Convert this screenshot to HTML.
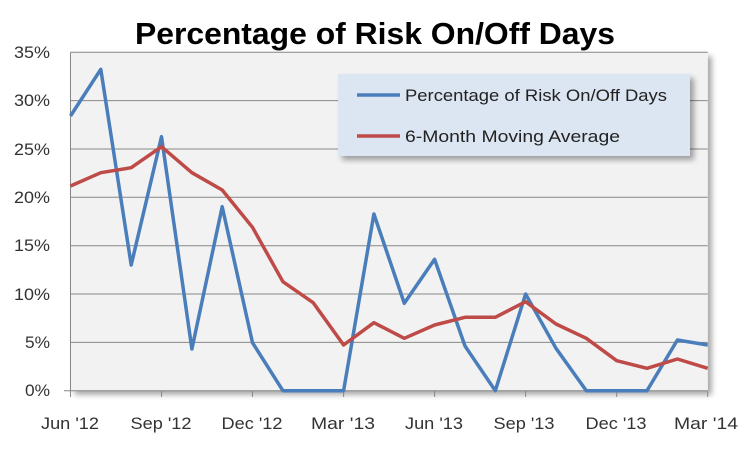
<!DOCTYPE html>
<html><head><meta charset="utf-8"><style>
body{margin:0;background:#fff;}
svg text{font-family:"Liberation Sans",sans-serif;}
</style></head><body>
<svg width="756" height="456" viewBox="0 0 756 456" xmlns="http://www.w3.org/2000/svg">
<defs><filter id="sh" x="-5%" y="-5%" width="115%" height="115%"><feDropShadow dx="4" dy="4" stdDeviation="3" flood-color="#000" flood-opacity="0.35"/></filter></defs>
<text x="375" y="44" text-anchor="middle" font-size="31" font-weight="bold" fill="#000" textLength="480" lengthAdjust="spacingAndGlyphs">Percentage of Risk On/Off Days</text>
<rect x="70.5" y="52.3" width="637.2" height="338.4" fill="#f2f2f2" filter="url(#sh)"/>
<g stroke="#888" stroke-width="1">
<line x1="70.5" x2="707.7" y1="52.3" y2="52.3"/>
<line x1="70.5" x2="707.7" y1="100.6" y2="100.6"/>
<line x1="70.5" x2="707.7" y1="149" y2="149"/>
<line x1="70.5" x2="707.7" y1="197.3" y2="197.3"/>
<line x1="70.5" x2="707.7" y1="245.7" y2="245.7"/>
<line x1="70.5" x2="707.7" y1="294" y2="294"/>
<line x1="70.5" x2="707.7" y1="342.4" y2="342.4"/>
<line x1="64" x2="707.7" y1="390.7" y2="390.7"/>
<line x1="70.5" x2="70.5" y1="52.3" y2="397"/>
<line x1="161.5" x2="161.5" y1="390.7" y2="397"/>
<line x1="252.5" x2="252.5" y1="390.7" y2="397"/>
<line x1="343.6" x2="343.6" y1="390.7" y2="397"/>
<line x1="434.6" x2="434.6" y1="390.7" y2="397"/>
<line x1="525.6" x2="525.6" y1="390.7" y2="397"/>
<line x1="616.7" x2="616.7" y1="390.7" y2="397"/>
<line x1="707.7" x2="707.7" y1="390.7" y2="397"/>
</g>
<g font-size="17" fill="#333" text-anchor="end">
<text x="50" y="58" textLength="36" lengthAdjust="spacingAndGlyphs">35%</text><text x="50" y="106" textLength="36" lengthAdjust="spacingAndGlyphs">30%</text><text x="50" y="155" textLength="36" lengthAdjust="spacingAndGlyphs">25%</text><text x="50" y="203" textLength="36" lengthAdjust="spacingAndGlyphs">20%</text><text x="50" y="251" textLength="36" lengthAdjust="spacingAndGlyphs">15%</text><text x="50" y="300" textLength="36" lengthAdjust="spacingAndGlyphs">10%</text><text x="50" y="348" textLength="25" lengthAdjust="spacingAndGlyphs">5%</text><text x="50" y="396" textLength="25" lengthAdjust="spacingAndGlyphs">0%</text>
</g>
<g font-size="17" fill="#333" text-anchor="middle">
<text x="70" y="429" textLength="58" lengthAdjust="spacingAndGlyphs">Jun '12</text><text x="161" y="429" textLength="61" lengthAdjust="spacingAndGlyphs">Sep '12</text><text x="252" y="429" textLength="61" lengthAdjust="spacingAndGlyphs">Dec '12</text><text x="343" y="429" textLength="64" lengthAdjust="spacingAndGlyphs">Mar '13</text><text x="434" y="429" textLength="58" lengthAdjust="spacingAndGlyphs">Jun '13</text><text x="524" y="429" textLength="61" lengthAdjust="spacingAndGlyphs">Sep '13</text><text x="616" y="429" textLength="61" lengthAdjust="spacingAndGlyphs">Dec '13</text><text x="706" y="429" textLength="64" lengthAdjust="spacingAndGlyphs">Mar '14</text>
</g>
<polyline fill="none" stroke="#4a7ebb" stroke-width="3.5" stroke-linejoin="round" points="70.5,116 100.8,69.3 131.2,265 161.5,136.7 191.9,349 222.2,206.7 252.5,342.7 282.9,390.7 313.2,390.7 343.6,390.7 373.9,214 404.3,303.3 434.6,259.3 465,346 495.3,390.7 525.6,294 556,348.3 586.3,390.7 616.7,390.7 647,390.7 677.4,340 707.7,345"/>
<polyline fill="none" stroke="#be4b48" stroke-width="3.5" stroke-linejoin="round" points="70.5,186 100.8,172.7 131.2,167.7 161.5,146.7 191.9,172.7 222.2,190 252.5,227.3 282.9,281.7 313.2,302.7 343.6,345 373.9,322.7 404.3,338.3 434.6,325 465,317.3 495.3,317.3 525.6,301.7 556,324 586.3,338.3 616.7,360.7 647,368.3 677.4,359 707.7,368.3"/>
<rect x="338" y="74" width="352" height="82" fill="#dce6f2" filter="url(#sh)"/>
<line x1="357" x2="400" y1="95" y2="95" stroke="#4a7ebb" stroke-width="3.5"/>
<line x1="357" x2="400" y1="136" y2="136" stroke="#be4b48" stroke-width="3.5"/>
<g font-size="17" fill="#222">
<text x="405" y="101" textLength="262" lengthAdjust="spacingAndGlyphs">Percentage of Risk On/Off Days</text>
<text x="405" y="142" textLength="215" lengthAdjust="spacingAndGlyphs">6-Month Moving Average</text>
</g>
</svg>
</body></html>
